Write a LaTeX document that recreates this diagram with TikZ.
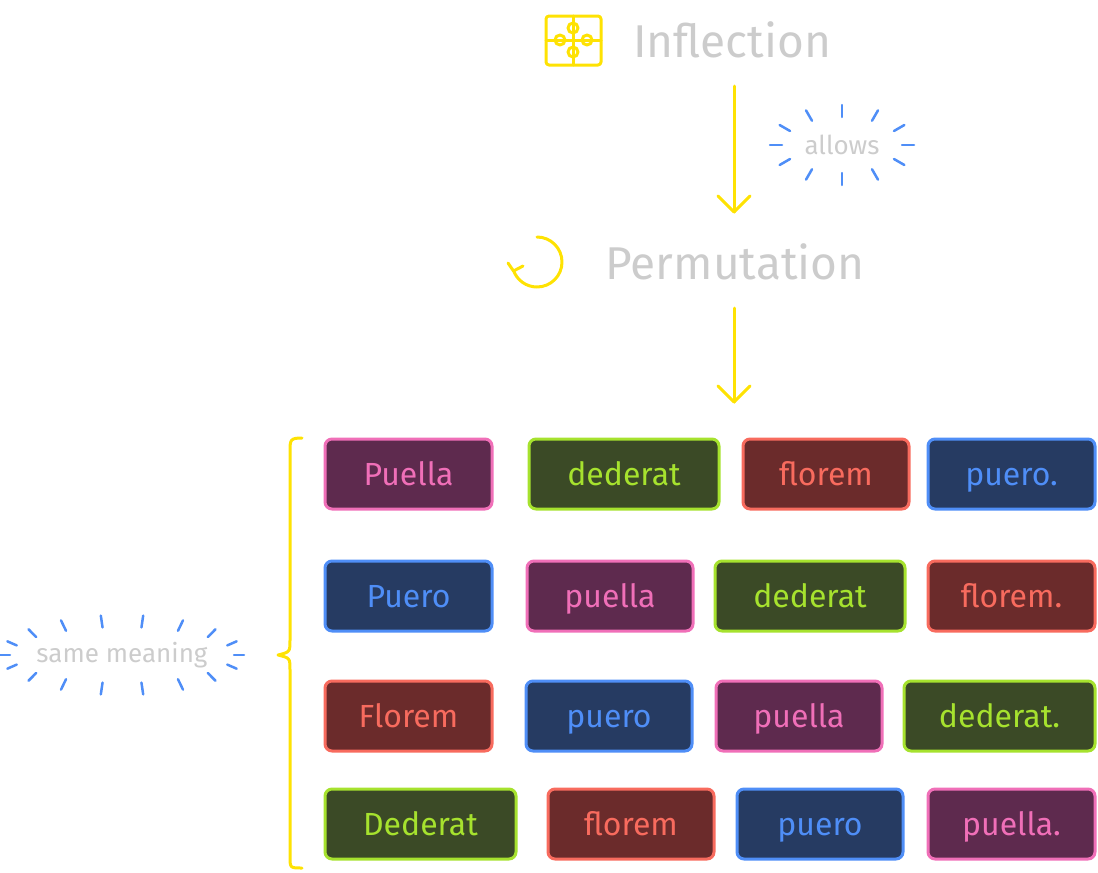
\documentclass[tikz,border=0pt]{standalone}
\usepackage{fontspec}
\setmainfont{Fira Sans}
\usetikzlibrary{calc}
\begin{document}
\begin{tikzpicture}[x=1pt,y=-1pt,
 yel/.style={draw=yellow!85!orange,line width=3pt,line cap=round,line join=round},
 w/.style={rounded corners=7pt,line width=3pt,minimum height=70pt,inner sep=0pt,text height=22pt,text depth=0pt,font=\fontsize{32}{32}\selectfont},
 pk/.style={w,draw=pinkb,fill=pinkf,text=pinkb},
 gr/.style={w,draw=greenb,fill=greenf,text=greenb},
 rd/.style={w,draw=redb,fill=redf,text=redb},
 bl/.style={w,draw=blueb,fill=bluef,text=blueb},
 ray/.style={draw=blueb,line width=2.5pt,line cap=round},
 ttl/.style={text=gray!40,font=\fontsize{46}{46}\selectfont}]
\definecolor{pinkb}{HTML}{F06FB8}\definecolor{pinkf}{HTML}{5E2A4E}
\definecolor{greenb}{HTML}{A6E22E}\definecolor{greenf}{HTML}{3B4A26}
\definecolor{redb}{HTML}{F86B5E}\definecolor{redf}{HTML}{6B2B2B}
\definecolor{blueb}{HTML}{4F8EF7}\definecolor{bluef}{HTML}{263B62}
\useasboundingbox (0,0) rectangle (1098,873);
% titles
\node[ttl] (infl) at (732,40) {Inflection};
\node[ttl] (perm) at (735,262) {Permutation};
% puzzle icon
\draw[yel,rounded corners=3pt] (546,16) rectangle (601,65);
\draw[yel] (573,16)--(573,65) (546,40)--(601,40);
\draw[yel] (573,28) circle (5pt) (560,40) circle (5pt) (587,40) circle (5pt) (573,52) circle (5pt);
% rotate icon
\draw[yel] (537,237) arc (-90:160:25);
\draw[yel] (508,263)--(513.5,271)--(523,266);
% arrows
\coordinate (a1) at (734,86); \coordinate (a2) at (734,212);
\coordinate (b1) at (734,308); \coordinate (b2) at (734,402);
\draw[yel] (a1)--(a2); \draw[yel] (718,196)--(a2)--(750,196);
\draw[yel] (b1)--(b2); \draw[yel] (718,386)--(b2)--(750,386);
% allows
\node[text=gray!40,font=\fontsize{26}{26}\selectfont] (al) at (842,145) {allows};
\foreach \a in {0,30,...,359}{\draw[ray] ($(al)+(\a:60 and 28)$)--($(al)+(\a:72 and 40)$);}
% same meaning
\node[text=gray!40,font=\fontsize{26}{26}\selectfont] (sm) at (122,655) {same meaning};
\foreach \a in {0,20,...,359}{\draw[ray] ($(sm)+(\a:112 and 28)$)--($(sm)+(\a:122 and 40)$);}
% brace
\draw[yel] (302,438) .. controls (290,438) and (290,440) .. (290,452) -- (290,640) .. controls (290,652) .. (278,655) .. controls (290,658) .. (290,670) -- (290,856) .. controls (290,868) .. (302,868);
% rows
\node[pk,minimum width=167pt] (r11) at (408.5,474) {Puella};
\node[gr,minimum width=190pt] (r12) at (624,474) {dederat};
\node[rd,minimum width=166pt] (r13) at (826,474) {florem};
\node[bl,minimum width=167pt] (r14) at (1011.5,474) {puero.};
\node[bl,minimum width=167pt] (r21) at (408.5,596) {Puero};
\node[pk,minimum width=166pt] (r22) at (610,596) {puella};
\node[gr,minimum width=190pt] (r23) at (810,596) {dederat};
\node[rd,minimum width=167pt] (r24) at (1011.5,596) {florem.};
\node[rd,minimum width=167pt] (r31) at (408.5,716) {Florem};
\node[bl,minimum width=166pt] (r32) at (609,716) {puero};
\node[pk,minimum width=166pt] (r33) at (799,716) {puella};
\node[gr,minimum width=191pt] (r34) at (999.5,716) {dederat.};
\node[gr,minimum width=191pt] (r41) at (420.5,824) {Dederat};
\node[rd,minimum width=166pt] (r42) at (631,824) {florem};
\node[bl,minimum width=166pt] (r43) at (820,824) {puero};
\node[pk,minimum width=167pt] (r44) at (1011.5,824) {puella.};
\end{tikzpicture}
\end{document}
